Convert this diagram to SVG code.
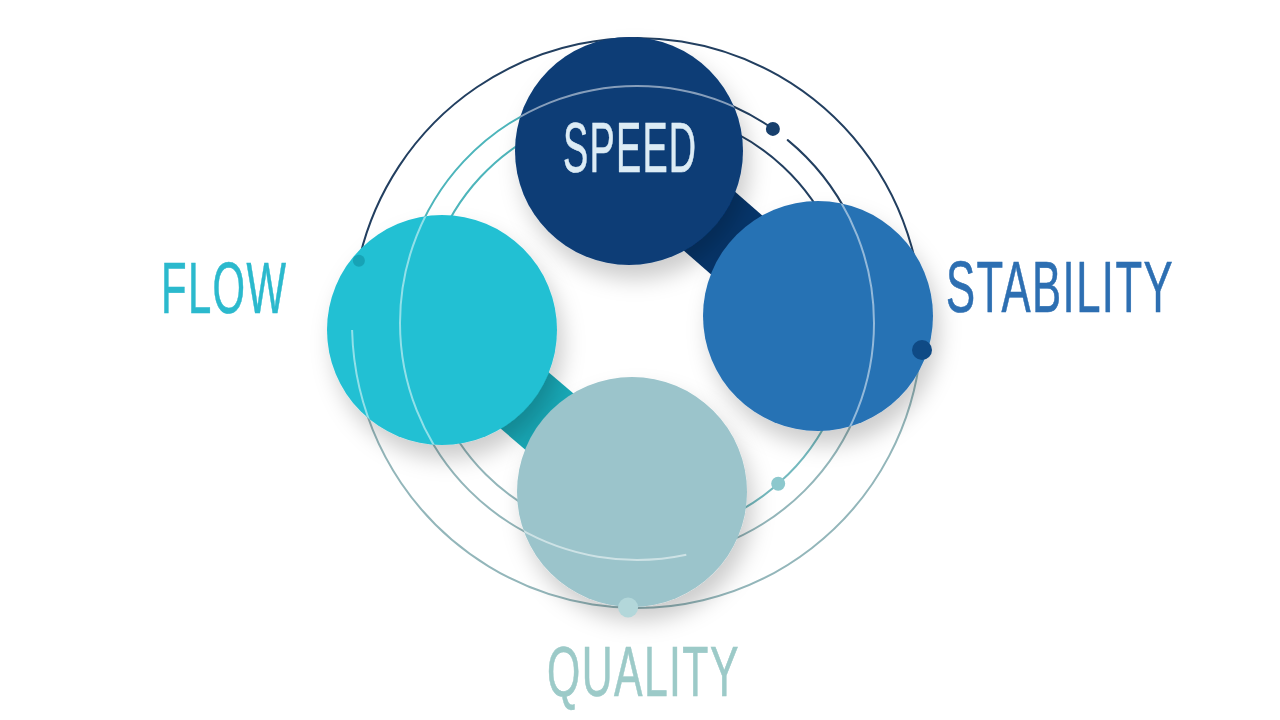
<svg xmlns="http://www.w3.org/2000/svg" width="1280" height="720" viewBox="0 0 1280 720">
  <defs>
    <style>
      .lbl { font-family: "Liberation Sans", Arial, sans-serif; font-size: 45px; stroke-width: 0.4; letter-spacing: 1.5px; }
      .ring { fill: none; stroke-width: 2; stroke-linecap: round; }
      .dark { stroke: #223f60; }
      .teal { stroke: #4db5bb; }
      .gray { stroke: #93b6ba; }
      .tg { stroke: #74b9be; }
      .lite { fill: none; stroke: #ffffff; stroke-opacity: 0.5; stroke-width: 2; }
      .bar { stroke-linecap: butt; fill: none; }
    </style>
    <filter id="sh" x="-30%" y="-30%" width="160%" height="170%">
      <feDropShadow dx="6" dy="14" stdDeviation="11" flood-color="#000000" flood-opacity="0.2"/>
    </filter>
    <clipPath id="clipBig">
      <circle cx="629" cy="151" r="114"/>
      <circle cx="818" cy="316" r="115"/>
      <circle cx="442" cy="330" r="115"/>
    </clipPath>
    <clipPath id="clipFlow">
      <circle cx="442" cy="330" r="115"/>
    </clipPath>
    <clipPath id="clipQual">
      <circle cx="632" cy="492" r="115"/>
    </clipPath>
  </defs>

  <rect width="1280" height="720" fill="#ffffff"/>

  <!-- orbit rings (behind) -->
  <g id="orbits">
    <!-- ring 1 r=285 -->
    <path class="ring dark" d="M358.86 260.83 A285 285 0 0 1 920.73 349.82"/>
    <path class="ring gray" d="M920.73 349.82 A285 285 0 1 1 358.86 260.83"/>
    <!-- ring 2 r=237 -->
    <path class="ring teal" d="M400.14 331.27 A237 237 0 0 1 628.73 86.14"/>
    <path class="ring dark" d="M628.73 86.14 A237 237 0 0 1 772.94 128.85"/>
    <path class="ring dark" d="M787.76 140.13 A237 237 0 0 1 873.86 314.73"/>
    <path class="ring gray" d="M873.86 314.73 A237 237 0 0 1 628.73 559.86"/>
    <path class="ring gray" d="M628.73 559.86 A237 237 0 0 1 400.14 331.27"/>
    <!-- ring 3 r=214 -->
    <path class="ring teal" d="M423.13 330.47 A214 214 0 0 1 629.53 109.13"/>
    <path class="ring dark" d="M629.53 109.13 A214 214 0 0 1 850.87 315.53"/>
    <path class="ring tg" d="M850.87 315.53 A214 214 0 0 1 629.53 536.87"/>
    <path class="ring gray" d="M629.53 536.87 A214 214 0 0 1 423.13 330.47"/>
  </g>

  <!-- connectors -->
  <g id="connectors">
    <line class="bar" x1="629" y1="151" x2="818" y2="316" stroke="#06356a" stroke-width="78"/>
    <line class="bar" x1="442" y1="330" x2="632" y2="492" stroke="#18a9b7" stroke-width="74"/>
  </g>

  <!-- nodes -->
  <g id="node-speed">
    <circle cx="629" cy="151" r="114" fill="#0b3c76" filter="url(#sh)"/>
    <text class="lbl" transform="translate(563,172) scale(0.84,1.58)" fill="#dcecf5" stroke="#dcecf5">SPEED</text>
  </g>
  <g id="node-stability">
    <circle cx="818" cy="316" r="115" fill="#2872b4" filter="url(#sh)"/>
    <text class="lbl" transform="translate(946,312) scale(0.97,1.61)" fill="#2d6fb2" stroke="#2d6fb2">STABILITY</text>
  </g>
  <g id="node-flow">
    <circle cx="442" cy="330" r="115" fill="#23c0d3" filter="url(#sh)"/>
    <text class="lbl" transform="translate(161,313) scale(0.93,1.61)" fill="#2bb9cd" stroke="#2bb9cd">FLOW</text>
  </g>
  <g id="node-quality">
    <circle cx="632" cy="492" r="115" fill="#9bc4cb" filter="url(#sh)"/>
    <text class="lbl" transform="translate(547,696) scale(0.95,1.55)" fill="#9ccac8" stroke="#9ccac8">QUALITY</text>
  </g>

  <!-- light orbit lines over circles -->
  <g id="orbit-highlights">
    <circle class="lite" cx="637" cy="323" r="237" clip-path="url(#clipBig)"/>
    <path class="lite" d="M514.9 526.1 A237 237 0 0 0 686.3 554.8" clip-path="url(#clipQual)"/>
    <path class="lite" d="M352.1 330 A285 285 0 0 0 378.7 443.4" clip-path="url(#clipFlow)"/>
  </g>

  <!-- orbit dots -->
  <g id="orbit-dots">
    <circle cx="358.9" cy="260.8" r="6" fill="#17a3b6"/>
    <circle cx="772.9" cy="128.9" r="7" fill="#173f6c"/>
    <circle cx="922" cy="350" r="10" fill="#0f4a85"/>
    <circle cx="778.2" cy="483.8" r="7" fill="#8cc8cd"/>
    <circle cx="628.1" cy="607.5" r="10" fill="#b3d7da"/>
  </g>
</svg>
